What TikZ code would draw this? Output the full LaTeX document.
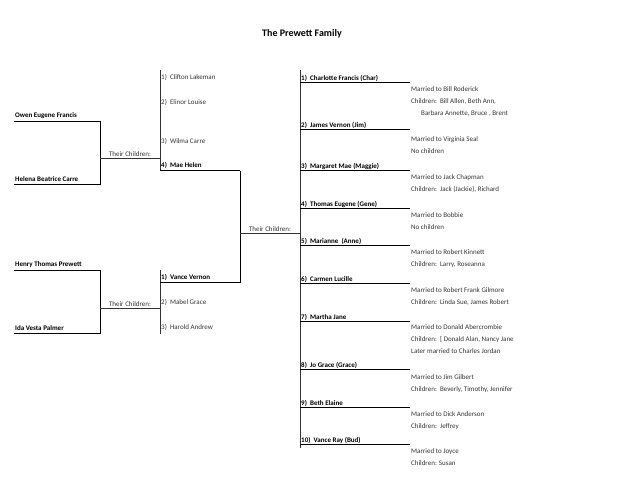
\documentclass[tikz,border=0pt]{standalone}
\usepackage{fontspec}
\setmainfont{Carlito}
\usetikzlibrary{positioning}

\begin{document}
\begin{tikzpicture}[x=1pt, y=-1pt,
    person/.style={anchor=south west, inner sep=1pt, font=\fontsize{7}{8}\selectfont\bfseries},
    child/.style={anchor=west, inner sep=1pt, font=\fontsize{7}{8}\selectfont, text=black!80},
    note/.style={anchor=north west, align=left, inner sep=1pt, font=\fontsize{7}{12.3}\selectfont, text=black!80},
    bar/.style={line width=1pt},
    link/.style={line width=0.5pt, black!80}
]
    \useasboundingbox (0,0) rectangle (638,478);
    \node[font=\fontsize{10}{12}\selectfont\bfseries] (title) at (302,34) {The Prewett Family};

    % Francis side
    \node[person] (owen) at (14,120) {Owen Eugene Francis};
    \node[person] (helena) at (14,183) {Helena Beatrice Carre};
    \draw[bar] (14,122) -- (100,122) -- (100,185) -- (14,185);
    \draw[link] (100,158) -- node[above, child, anchor=south, inner sep=1pt] (tc1) {Their Children:} (160,158);
    \draw[link] (160,70) -- (160,171);
    \node[child] (c1) at (160,77) {1)\ \ Clifton Lakeman};
    \node[child] (c2) at (160,102) {2)\ \ Elinor Louise};
    \node[child] (c3) at (160,141) {3)\ \ Wilma Carre};
    \node[person] (mae) at (160,170) {4)\ \ Mae Helen};
    \draw[bar] (160,171) -- (240,171);

    % Prewett side
    \node[person] (henry) at (14,269) {Henry Thomas Prewett};
    \node[person] (ida) at (14,332) {Ida Vesta Palmer};
    \draw[bar] (14,271) -- (100,271) -- (100,334) -- (14,334);
    \draw[link] (100,308) -- node[above, child, anchor=south, inner sep=1pt] (tc2) {Their Children:} (160,308);
    \draw[link] (160,270) -- (160,334);
    \node[person] (vance) at (160,282) {1)\ \ Vance Vernon};
    \node[child] (p2) at (160,302) {2)\ \ Mabel Grace};
    \node[child] (p3) at (160,327) {3)\ \ Harold Andrew};
    \draw[bar] (160,283) -- (240,283);

    % Mae and Vance
    \draw[bar] (240,171) -- (240,283);
    \draw[link] (240,233) -- node[above, child, anchor=south, inner sep=1pt] (tc3) {Their Children:} (300,233);
    \draw[link] (300,70) -- (300,448);

    % Their children
    \foreach \y/\n/\txt [count=\k] in {
        83/1/{Charlotte Francis (Char)},
        130/2/{James Vernon (Jim)},
        171/3/{Margaret Mae (Maggie)},
        209/4/{Thomas Eugene (Gene)},
        246/5/{Marianne\ \ (Anne)},
        284/6/{Carmen Lucille},
        322/7/{Martha Jane},
        370/8/{Jo Grace (Grace)},
        408/9/{Beth Elaine},
        445/10/{Vance Ray (Bud)}} {
        \node[person] (k\k) at (300,\y) {\n)\ \ \txt};
        \draw[bar] (300,\y) -- (410,\y);
    }

    % Marriages
    \node[note] (m1) at (410,85) {Married to Bill Roderick\\Children:\ \ Bill Allen, Beth Ann,\\\hspace{10pt}Barbara Annette, Bruce , Brent};
    \node[note] (m2) at (410,135) {Married to Virginia Seal\\No children};
    \node[note] (m3) at (410,173) {Married to Jack Chapman\\Children:\ \ Jack (Jackie), Richard};
    \node[note] (m4) at (410,211) {Married to Bobbie\\No children};
    \node[note] (m5) at (410,248) {Married to Robert Kinnett\\Children:\ \ Larry, Roseanna};
    \node[note] (m6) at (410,286) {Married to Robert Frank Gilmore\\Children:\ \ Linda Sue, James Robert};
    \node[note] (m7) at (410,323) {Married to Donald Abercrombie\\Children:\ \ [ Donald Alan, Nancy Jane\\Later married to Charles Jordan};
    \node[note] (m8) at (410,373) {Married to Jim Gilbert\\Children:\ \ Beverly, Timothy, Jennifer};
    \node[note] (m9) at (410,410) {Married to Dick Anderson\\Children:\ \ Jeffrey};
    \node[note] (m10) at (410,447) {Married to Joyce\\Children: Susan};
\end{tikzpicture}
\end{document}
